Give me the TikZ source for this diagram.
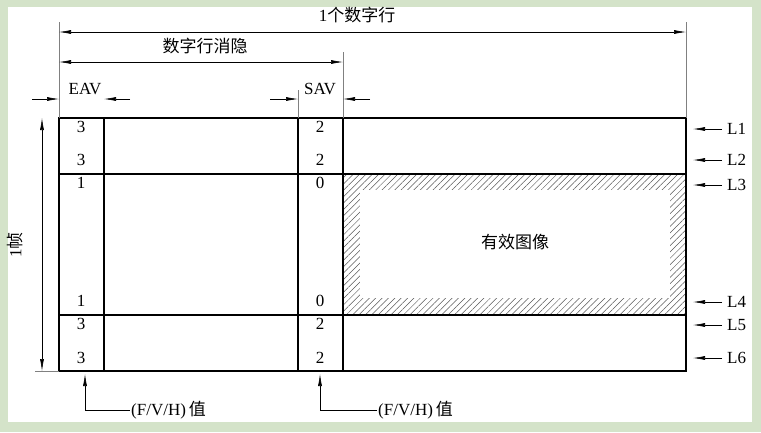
\documentclass[tikz,border=0pt]{standalone}
\usepackage{fontspec}
\setmainfont{Liberation Serif}
\newfontfamily\cjk{Noto Sans CJK SC}
\usetikzlibrary{patterns.meta,arrows.meta}
\definecolor{bgframe}{RGB}{212,227,201}
\begin{document}
\begin{tikzpicture}[x=1pt,y=-1pt,
  thin/.style={line width=0.6pt},
  grid/.style={line width=1.5pt},
  dim/.style={line width=0.6pt,{Latex[length=12pt,width=4pt]}-{Latex[length=12pt,width=4pt]}},
  ptr/.style={line width=0.6pt,-{Latex[length=12pt,width=4pt]}},
  lab/.style={font=\fontsize{17}{17}\selectfont,inner sep=1pt},
  num/.style={font=\fontsize{17}{17}\selectfont,inner sep=0pt}]
\fill[bgframe] (0,0) rectangle (761,432);
\fill[white] (8,7) rectangle (752,422);
\useasboundingbox (0,0) rectangle (761,432);
% hatched region
\fill[pattern={Lines[angle=45,distance=4.5pt,line width=0.5pt]},pattern color=gray!70!black] (343,174) rectangle (686,315);
\fill[white] (360,190) rectangle (670,298);
% table
\draw[grid] (59,118) rectangle (686,371);
\draw[grid] (59,174) -- (686,174) (59,315) -- (686,315);
\draw[grid] (104,118) -- (104,371) (298,118) -- (298,371) (343,118) -- (343,371);
\node[lab] (img) at (515,242) {\cjk 有效图像};
% numbers
\foreach \y/\a/\b [count=\i] in {127/3/2,160/3/2,183/1/0,301/1/0,324/3/2,358/3/2}{
  \node[num] (e\i) at (81,\y) {\a};
  \node[num] (s\i) at (320,\y) {\b};}
% extension lines
\coordinate (x59t) at (59,22); \coordinate (x59b) at (59,118);
\coordinate (x686t) at (686,22); \coordinate (x686b) at (686,118);
\coordinate (x343t) at (343,52); \coordinate (x343b) at (343,118);
\coordinate (x298t) at (298,90); \coordinate (x298b) at (298,118);
\draw[thin,gray] (x59t) -- (x59b) (x686t) -- (x686b) (x343t) -- (x343b) (x298t) -- (x298b);
% top dimensions
\node[lab] (one) at (357,15) {1\cjk 个数字行};
\coordinate (d1a) at (59,32); \coordinate (d1b) at (686,32);
\draw[dim] (d1a) -- (d1b);
\node[lab] (blank) at (205,46) {\cjk 数字行消隐};
\coordinate (d2a) at (59,62); \coordinate (d2b) at (343,62);
\draw[dim] (d2a) -- (d2b);
% EAV SAV
\node[lab] (eav) at (85,89) {EAV};
\node[lab] (sav) at (320,89) {SAV};
\coordinate (ea1) at (32,99); \coordinate (ea2) at (59,99);
\coordinate (eb1) at (130,99); \coordinate (eb2) at (104,99);
\coordinate (sa1) at (270,99); \coordinate (sa2) at (298,99);
\coordinate (sb1) at (370,99); \coordinate (sb2) at (343,99);
\draw[ptr] (ea1) -- (ea2); \draw[ptr] (eb1) -- (eb2);
\draw[ptr] (sa1) -- (sa2); \draw[ptr] (sb1) -- (sb2);
% left frame dim
\coordinate (fa) at (42,118); \coordinate (fb) at (42,371);
\draw[dim] (fb) -- (fa);
\draw[thin,gray] (35,371) -- (59,371);
\node[lab,rotate=90] (frame) at (15,245) {1\cjk 帧};
% right labels
\foreach \y [count=\i] in {129,160,185,302,325,358}{
  \coordinate (ra\i) at (722,\y); \coordinate (rb\i) at (693,\y);
  \draw[ptr] (ra\i) -- (rb\i);
  \node[lab,anchor=west] (L\i) at (726,\y) {L\i};}
% bottom
\node[lab,anchor=west] (v1) at (130,410) {(F/V/H)\,\cjk 值};
\node[lab,anchor=west] (v2) at (377,410) {(F/V/H)\,\cjk 值};
\coordinate (p1) at (85,374); \coordinate (p2) at (320,374);
\draw[ptr] (v1.west) -| (p1);
\draw[ptr] (v2.west) -| (p2);
\end{tikzpicture}
\end{document}
